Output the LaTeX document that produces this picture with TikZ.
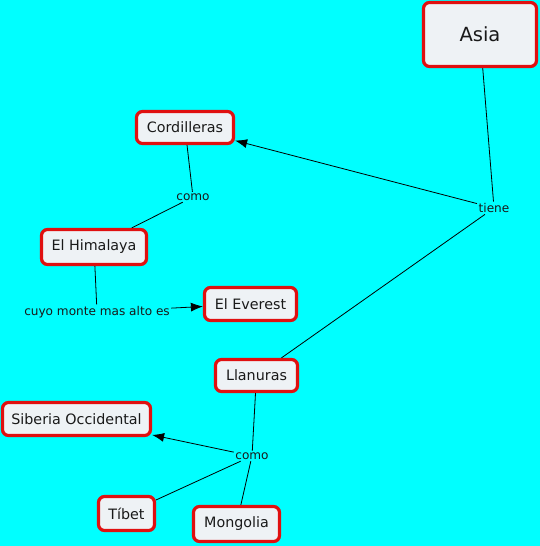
\documentclass[tikz,border=0pt]{standalone}
\usepackage{fontspec}
\setmainfont{DejaVu Sans}
\usetikzlibrary{arrows.meta}
\definecolor{bgcyan}{HTML}{00FFFF}
\definecolor{boxred}{HTML}{E01010}
\definecolor{boxfill}{HTML}{EEF2F5}
\tikzset{
  concept/.style={draw=boxred, line width=3.2pt, fill=boxfill, rounded corners=6pt,
    font=\fontsize{14.3}{17}\selectfont, text=black!90, inner sep=0pt},
  linkword/.style={font=\fontsize{12.1}{14}\selectfont, text=black!90, inner sep=1.5pt, fill=bgcyan},
  conn/.style={line width=0.8pt, black},
  arr/.style={conn, -{Latex[length=12pt,width=9pt]}}
}
\begin{document}
\begin{tikzpicture}[x=1pt,y=-1pt]
\fill[bgcyan] (0,0) rectangle (540,546);
\useasboundingbox (0,0) rectangle (540,546);

% link words
\node[linkword] (tiene) at (494,208) {tiene};
\node[linkword] (como1) at (193,197) {como};
\node[linkword] (cuyo) at (97,312) {cuyo monte mas alto es};
\node[linkword] (como2) at (252,456) {como};

% concepts
\node[concept, minimum width=113pt, minimum height=64pt, font=\fontsize{19.5}{23}\selectfont] (asia) at (480,34.5) {Asia};
\node[concept, minimum width=97pt, minimum height=32pt] (cord) at (185,127.5) {Cordilleras};
\node[concept, minimum width=105pt, minimum height=35pt] (him) at (94,247) {El Himalaya};
\node[concept, minimum width=92pt, minimum height=33pt] (ever) at (250.5,304) {El Everest};
\node[concept, minimum width=82pt, minimum height=32pt] (llan) at (256.5,375.5) {Llanuras};
\node[concept, minimum width=148pt, minimum height=33pt] (sib) at (76.5,419) {Siberia Occidental};
\node[concept, minimum width=56pt, minimum height=34pt] (tib) at (126.5,513.5) {Tíbet};
\node[concept, minimum width=86pt, minimum height=35pt] (mon) at (236.5,524) {Mongolia};

% connectors
\draw[conn] (asia) -- (tiene);
\draw[arr] (tiene) -- (cord);
\draw[conn] (tiene) -- (llan);
\draw[conn] (cord) -- (como1);
\draw[conn] (como1) -- (him);
\draw[conn] (him) -- (cuyo);
\draw[arr] (cuyo) -- (ever);
\draw[conn] (llan) -- (como2);
\draw[arr] (como2) -- (sib);
\draw[conn] (como2) -- (tib);
\draw[conn] (como2) -- (mon);
\end{tikzpicture}
\end{document}
